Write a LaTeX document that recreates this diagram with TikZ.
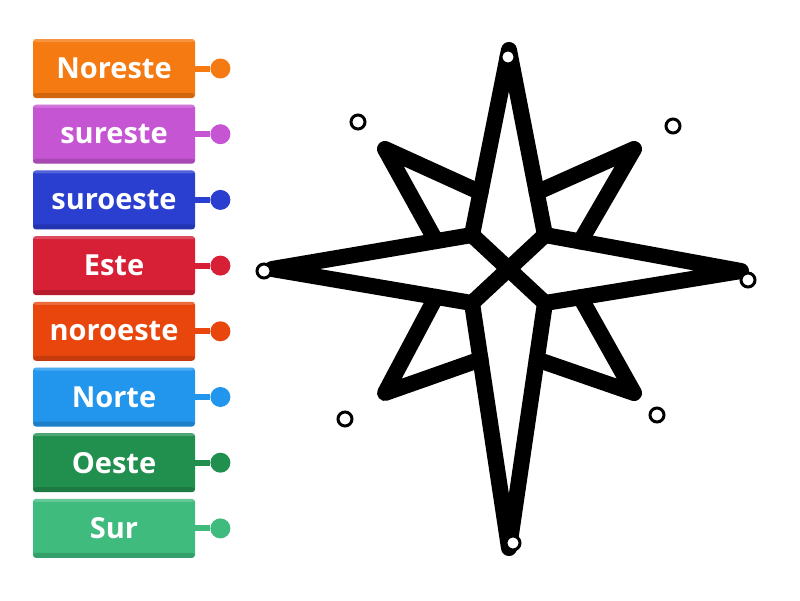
\documentclass[tikz,border=0pt]{standalone}
\usepackage{fontspec}
\setmainfont{Open Sans}
\usepackage{tikz}
\usetikzlibrary{positioning, calc}
\definecolor{cnoreste}{HTML}{F57A12}
\definecolor{csureste}{HTML}{C655D3}
\definecolor{csuroeste}{HTML}{2A3ECF}
\definecolor{ceste}{HTML}{D71F36}
\definecolor{cnoroeste}{HTML}{E8460D}
\definecolor{cnorte}{HTML}{2196EC}
\definecolor{coeste}{HTML}{21904F}
\definecolor{csur}{HTML}{3EBB7D}
\tikzstyle{box} = [rectangle, rounded corners=3pt, minimum width=162pt, minimum height=59pt, inner sep=0pt, text=white, font=\fontsize{29}{32}\selectfont\bfseries,
  path picture={\fill[black, opacity=0.15] ([yshift=5pt]path picture bounding box.south west) rectangle (path picture bounding box.south east);
    \fill[white, opacity=0.2] (path picture bounding box.north west) rectangle ([yshift=-3pt]path picture bounding box.north east);}]
\tikzstyle{dot} = [circle, minimum size=20pt, inner sep=0pt]
\tikzstyle{link} = [line width=6pt]
\tikzstyle{star} = [line width=16pt, line join=round, line cap=round]
\tikzstyle{target} = [circle, draw=black, fill=white, line width=3pt, minimum size=14pt, inner sep=0pt]

\begin{document}
\begin{tikzpicture}[x=1pt, y=-1pt, node distance=65.7pt]
			\useasboundingbox (0,0) rectangle (800,600);
			% labels
			\node (noreste) [box, fill=cnoreste] at (114,68.5) {Noreste};
			\node (sureste) [box, fill=csureste, below of=noreste] {sureste};
			\node (suroeste) [box, fill=csuroeste, below of=sureste] {suroeste};
			\node (este) [box, fill=ceste, below of=suroeste] {Este};
			\node (noroeste) [box, fill=cnoroeste, below of=este] {noroeste};
			\node (norte) [box, fill=cnorte, below of=noroeste] {Norte};
			\node (oeste) [box, fill=coeste, below of=norte] {Oeste};
			\node (sur) [box, fill=csur, below of=oeste] {Sur};
			\node (dnoreste) [dot, fill=cnoreste, right=15pt of noreste] {};
			\node (dsureste) [dot, fill=csureste, right=15pt of sureste] {};
			\node (dsuroeste) [dot, fill=csuroeste, right=15pt of suroeste] {};
			\node (deste) [dot, fill=ceste, right=15pt of este] {};
			\node (dnoroeste) [dot, fill=cnoroeste, right=15pt of noroeste] {};
			\node (dnorte) [dot, fill=cnorte, right=15pt of norte] {};
			\node (doeste) [dot, fill=coeste, right=15pt of oeste] {};
			\node (dsur) [dot, fill=csur, right=15pt of sur] {};
			\draw [link, cnoreste] (noreste) -- (dnoreste);
			\draw [link, csureste] (sureste) -- (dsureste);
			\draw [link, csuroeste] (suroeste) -- (dsuroeste);
			\draw [link, ceste] (este) -- (deste);
			\draw [link, cnoroeste] (noroeste) -- (dnoroeste);
			\draw [link, cnorte] (norte) -- (dnorte);
			\draw [link, coeste] (oeste) -- (doeste);
			\draw [link, csur] (sur) -- (dsur);
			% star
			\coordinate (N) at (509,50);
			\coordinate (S) at (509,548);
			\coordinate (W) at (272,269);
			\coordinate (E) at (741,271);
			\coordinate (TL) at (472,235);
			\coordinate (TR) at (545,235);
			\coordinate (BL) at (472,303);
			\coordinate (BR) at (545,303);
			\coordinate (NW) at (385,149);
			\coordinate (NE) at (634,149);
			\coordinate (SW) at (385,393);
			\coordinate (SE) at (634,393);
			\draw [star] (N) -- (TR) -- (E) -- (BR) -- (S) -- (BL) -- (W) -- (TL) -- cycle;
			\draw [star] (TL) -- (BR) (TR) -- (BL);
			\draw [star] ($(N)!0.77!(TL)$) -- (NW) -- ($(W)!0.82!(TL)$);
			\draw [star] ($(N)!0.77!(TR)$) -- (NE) -- ($(E)!0.82!(TR)$);
			\draw [star] ($(S)!0.77!(BL)$) -- (SW) -- ($(W)!0.82!(BL)$);
			\draw [star] ($(S)!0.77!(BR)$) -- (SE) -- ($(E)!0.82!(BR)$);
			% targets
			\node (tn) [target] at (508,57) {};
			\node (ts) [target] at (513,543) {};
			\node (tw) [target] at (264,271) {};
			\node (te) [target] at (748,280) {};
			\node (tnw) [target] at (358,122) {};
			\node (tne) [target] at (673,126) {};
			\node (tsw) [target] at (345,419) {};
			\node (tse) [target] at (657,415) {};
		\end{tikzpicture}
\end{document}
